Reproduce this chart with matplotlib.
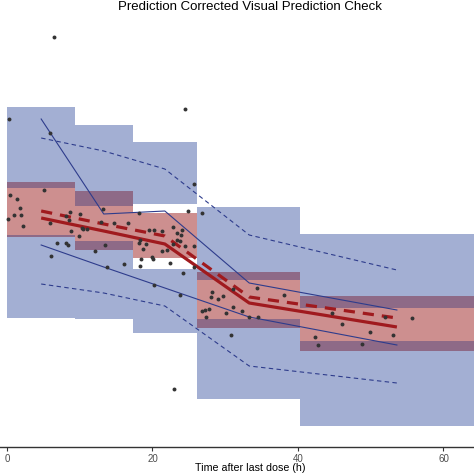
import matplotlib

matplotlib.use("Agg")

import matplotlib.pyplot as plt
import numpy as np

# Bin edges (time after last dose, h) and bin-median times
BIN_EDGES = [0.0, 9.35, 17.3, 26.1, 40.3, 64.3]
BIN_MID = [4.7, 13.3, 21.7, 33.3, 53.6]

# Simulated CI bands per bin: (low, high)
UPPER_CI_LO = [25.9, 24.1, 24.3, 16.7, 13.9]
UPPER_CI_HI = [34.0, 32.2, 30.5, 24.0, 21.3]
MEDIAN_CI_LO = [21.0, 19.7, 18.9, 11.9, 9.6]
MEDIAN_CI_HI = [26.5, 25.6, 23.4, 17.5, 15.1]
LOWER_CI_LO = [12.9, 12.8, 11.4, 4.8, 2.1]
LOWER_CI_HI = [21.2, 20.6, 17.8, 12.8, 10.6]

# Percentile lines
OBS_MEDIAN = [22.9, 21.6, 20.3, 14.4, 12.0]
SIM_MEDIAN = [23.6, 22.3, 21.1, 15.0, 12.9]
OBS_UPPER = [32.8, 23.3, 23.6, 16.4, 13.7]
OBS_LOWER = [20.2, 18.0, 15.9, 13.0, 10.2]
SIM_UPPER = [30.9, 29.6, 27.8, 21.2, 17.7]
SIM_LOWER = [16.3, 15.4, 14.1, 8.1, 6.4]

# Observed (prediction corrected) data
OBS_TIME = [
    6.5, 0.3, 5.9, 0.4, 1.4, 5.1, 1.8, 1.0, 1.9, 0.1, 2.2, 5.9, 6.9, 8.1, 8.4,
    6.1, 8.7, 8.1, 8.5,
    10.0, 8.8, 10.3, 11.0, 10.5, 9.9, 12.1, 13.5, 13.2, 13.8, 16.1, 12.9, 14.7,
    16.6,
    18.2, 18.3, 18.2, 19.5, 20.2, 19.1, 18.7, 19.9, 21.3, 22.0, 21.3, 22.8, 23.4,
    24.1, 23.9, 23.4, 23.8, 24.5, 22.8, 25.7, 24.9, 18.4, 18.3, 20.1, 22.4, 24.2,
    25.7, 24.5, 25.7, 20.2, 23.8, 23.0,
    26.8, 28.2, 28.1, 29.0, 29.7, 31.1, 34.4, 38.1, 26.8, 27.2, 27.8, 27.4, 30.1,
    31.1, 32.3, 33.3, 34.5, 30.8,
    46.1, 42.4, 42.8, 48.8, 49.9, 51.9, 53.1, 55.7, 44.7,
]
OBS_DV = [
    41.0, 32.8, 31.4, 25.2, 24.8, 25.7, 23.9, 23.2, 23.2, 22.8, 22.1, 22.4, 20.4,
    20.4, 20.2, 19.1, 23.5, 23.1, 22.7,
    23.3, 21.6, 21.9, 21.8, 21.8, 21.1, 19.6, 20.2, 23.8, 18.0, 18.3, 22.5, 22.4,
    22.4,
    23.4, 20.7, 20.4, 21.7, 21.7, 20.3, 19.8, 19.0, 19.6, 19.7, 21.6, 22.0, 21.4,
    21.7, 21.2, 20.7, 20.6, 20.1, 20.3, 20.1, 23.6, 18.8, 18.1, 18.8, 18.4, 17.4,
    18.0, 33.8, 26.3, 16.2, 15.2, 5.8,
    23.4, 15.5, 15.0, 14.8, 15.1, 15.8, 15.9, 15.2, 13.6, 13.7, 13.8, 13.0, 13.4,
    14.0, 13.6, 13.0, 13.0, 11.2,
    12.3, 11.0, 10.2, 10.3, 11.5, 13.0, 11.2, 12.9, 13.4,
]

BLUE = "#A3AFD3"
PINK = "#CD8F8F"
MAUVE = "#8E6A87"
DARK_RED = "#A01A1E"
NAVY = "#2E3C8C"

fig = plt.figure(figsize=(4.74, 4.74), dpi=100)
ax = fig.add_axes([0.0, 27 / 474, 1.0, 425 / 474])

edges = np.array(BIN_EDGES)
left = edges[:-1]
width = np.diff(edges)

# Bands
ax.bar(left, np.array(UPPER_CI_HI) - UPPER_CI_LO, width, bottom=UPPER_CI_LO,
       align="edge", color=BLUE, linewidth=0, zorder=1)
ax.bar(left, np.array(LOWER_CI_HI) - LOWER_CI_LO, width, bottom=LOWER_CI_LO,
       align="edge", color=BLUE, linewidth=0, zorder=1)
ax.bar(left, np.array(MEDIAN_CI_HI) - MEDIAN_CI_LO, width, bottom=MEDIAN_CI_LO,
       align="edge", color=PINK, linewidth=0, zorder=2)

# Overlap of median band with the outer bands
for lo_arr, hi_arr in [(UPPER_CI_LO, UPPER_CI_HI), (LOWER_CI_LO, LOWER_CI_HI)]:
    lo = np.maximum(MEDIAN_CI_LO, lo_arr)
    hi = np.minimum(MEDIAN_CI_HI, hi_arr)
    h = np.clip(hi - lo, 0, None)
    ax.bar(left, h, width, bottom=lo, align="edge", color=MAUVE,
           linewidth=0, zorder=3)

# Percentile lines
ax.plot(BIN_MID, OBS_UPPER, color=NAVY, lw=0.8, zorder=4)
ax.plot(BIN_MID, OBS_LOWER, color=NAVY, lw=0.8, zorder=4)
ax.plot(BIN_MID, SIM_UPPER, color=NAVY, lw=0.8, ls=(0, (4, 3)), zorder=4)
ax.plot(BIN_MID, SIM_LOWER, color=NAVY, lw=0.8, ls=(0, (4, 3)), zorder=4)
ax.plot(BIN_MID, OBS_MEDIAN, color=DARK_RED, lw=2.3, zorder=5,
        solid_capstyle="butt")
ax.plot(BIN_MID, SIM_MEDIAN, color=DARK_RED, lw=2.3, ls=(0, (3.5, 2.5)),
        zorder=5, dash_capstyle="butt")

# Observations
ax.scatter(OBS_TIME, OBS_DV, s=8, color="#333333", linewidths=0, zorder=6)

ax.set_xlim(-0.96, 64.2)
ax.set_ylim(0, 42.5)
ax.set_xticks([0, 20, 40, 60])
ax.set_yticks([])
for side in ["top", "right", "left"]:
    ax.spines[side].set_visible(False)
ax.spines["bottom"].set_color("#333333")
ax.spines["bottom"].set_linewidth(1.0)
ax.tick_params(axis="x", length=3, width=0.8, color="#333333",
               labelcolor="#4D4D4D", labelsize=7, pad=2)
for lab in ax.get_xticklabels():
    lab.set_family("Liberation Sans")

fig.text(250 / 474, 1 - 10 / 474, "Prediction Corrected Visual Prediction Check",
         ha="center", va="baseline", fontsize=9.5, family="Liberation Sans")
fig.text(250 / 474, 1 - 468 / 474, "Time after last dose (h)",
         ha="center", va="center", fontsize=7.7, family="Liberation Sans")

fig.savefig("out.png", dpi=100)
